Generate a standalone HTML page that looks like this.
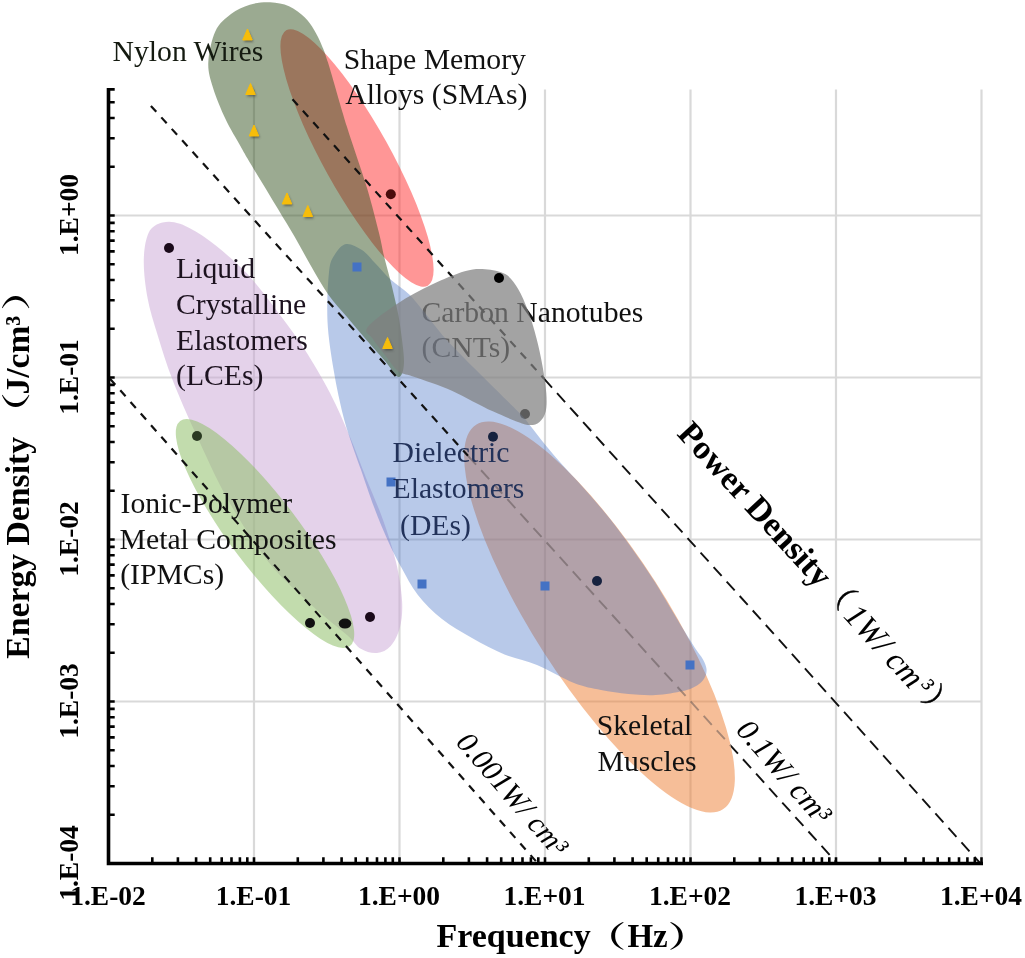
<!DOCTYPE html>
<html lang="en"><head><meta charset="utf-8"><title>Actuator energy density vs frequency</title>
<style>html,body{margin:0;padding:0;background:#fff;overflow:hidden}svg{display:block}text{font-family:"Liberation Serif","Noto Serif CJK SC",serif}</style>
</head><body>
<svg width="1025" height="958" viewBox="0 0 1025 958">
<defs><filter id="sh" x="-60%" y="-60%" width="220%" height="220%"><feGaussianBlur stdDeviation="1.3"/></filter></defs>
<rect width="1025" height="958" fill="#fff"/>
<path d="M254.0 89.4V863.5M399.5 89.4V863.5M545.0 89.4V863.5M690.5 89.4V863.5M836.0 89.4V863.5M981.5 89.4V863.5M108.5 701.5H981.5M108.5 539.5H981.5M108.5 377.5H981.5M108.5 215.5H981.5" stroke="#d9d9d9" stroke-width="2.2" fill="none"/>
<mask id="mk" maskUnits="userSpaceOnUse" x="0" y="0" width="1025" height="958"><rect width="1025" height="958" fill="#fff"/><ellipse cx="599.5" cy="617" rx="228.5" ry="66" transform="rotate(57.3 599.5 617)" fill="#000" /></mask>
<clipPath id="skc"><ellipse cx="599.5" cy="617" rx="228.5" ry="66" transform="rotate(57.3 599.5 617)" fill="#000" /></clipPath>
<path d="M544 378.6L980 863" stroke="#111" stroke-width="1.9" stroke-dasharray="12 7.5" fill="none" />
<g id="markers-under"><circle cx="525" cy="414" r="5" fill="#000"/></g>
<g id="labels-under"><text x="421.5" y="321.5" font-size="29.7" fill="#111">Carbon Nanotubes</text>
<text x="421.5" y="356.8" font-size="29.7" fill="#111">(CNTs)</text></g>
<g id="shapes-a"><ellipse cx="599.5" cy="617" rx="228.5" ry="66" transform="rotate(57.3 599.5 617)" fill="#ed7d31" fill-opacity="0.5"/>
<path d="M162.6 222.5C167.8 221.1 172.9 221.3 180.0 223.8C187.1 226.3 196.7 231.9 205.0 237.5C213.3 243.1 222.1 250.5 230.0 257.6C237.9 264.7 244.4 270.4 252.7 280.0C261.0 289.6 271.3 303.3 280.0 315.0C288.7 326.7 296.7 337.0 305.0 350.0C313.3 363.0 322.5 378.5 330.0 393.0C337.5 407.5 344.0 422.8 350.0 437.0C356.0 451.2 360.6 464.4 366.0 478.0C371.4 491.6 377.5 504.5 382.5 518.5C387.5 532.5 392.8 548.4 396.0 562.0C399.2 575.6 401.3 589.2 402.0 600.0C402.7 610.8 401.9 619.3 400.0 627.0C398.1 634.7 394.5 641.7 390.7 646.0C386.9 650.3 382.0 652.5 377.0 653.0C372.0 653.5 365.8 651.8 360.8 648.8C355.8 645.8 355.1 642.2 347.0 635.0C338.9 627.8 325.1 617.6 312.0 605.4C298.9 593.2 282.5 579.6 268.5 562.0C254.5 544.4 239.9 520.8 227.8 499.5C215.7 478.2 205.2 453.9 196.0 434.0C186.8 414.1 179.0 396.5 172.6 380.0C166.2 363.5 161.8 348.7 157.6 335.0C153.4 321.3 149.8 310.2 147.5 297.7C145.2 285.2 143.6 270.9 143.8 260.0C144.0 249.1 145.7 238.8 148.8 232.5C151.9 226.2 157.4 223.9 162.6 222.5Z" fill="#c9a6d6" fill-opacity="0.5"/>
<ellipse cx="265" cy="533.5" rx="141" ry="34.5" transform="rotate(53 265 533.5)" fill="#8fc06a" fill-opacity="0.55"/>
<ellipse cx="357" cy="158" rx="146" ry="33.5" transform="rotate(61 357 158)" fill="#ff2d2d" fill-opacity="0.5"/>
<path d="M346.0 244.0C341.4 244.8 337.3 250.3 334.5 255.0C331.7 259.7 330.2 260.9 329.0 272.0C327.8 283.1 326.7 304.8 327.5 321.5C328.3 338.2 331.4 356.4 334.0 372.0C336.6 387.6 340.1 403.2 343.0 415.0C345.9 426.8 348.6 434.0 351.5 443.0C354.4 452.0 356.9 458.2 360.7 469.0C364.5 479.8 369.8 495.9 374.3 507.8C378.8 519.7 383.3 530.4 387.8 540.4C392.3 550.4 396.4 558.5 401.4 567.5C406.4 576.5 410.9 586.1 417.7 594.7C424.5 603.3 432.9 611.8 442.0 619.0C451.1 626.2 461.6 632.1 472.0 638.0C482.4 643.9 493.7 649.9 504.5 654.4C515.3 658.9 525.4 660.2 537.0 665.0C548.6 669.8 563.3 678.8 574.0 683.0C584.7 687.2 591.9 688.2 601.0 690.0C610.1 691.8 619.4 693.2 628.5 694.0C637.6 694.8 646.6 695.5 655.7 695.0C664.8 694.5 676.1 692.6 683.0 691.0C689.9 689.4 693.4 687.7 697.0 685.5C700.6 683.3 702.9 680.8 704.5 678.0C706.1 675.2 706.8 672.1 706.5 669.0C706.2 665.9 704.9 663.0 703.0 659.5C701.1 656.0 698.0 652.6 695.0 648.0C692.0 643.4 688.4 637.5 685.0 632.0C681.6 626.5 679.8 623.5 674.7 615.0C669.6 606.5 661.3 592.1 654.2 581.0C647.1 569.9 639.5 559.1 632.0 548.5C624.5 537.9 616.7 527.2 608.9 517.5C601.1 507.8 593.0 498.7 585.4 490.0C577.8 481.3 569.7 473.1 563.0 465.5C556.3 457.9 550.5 451.2 545.0 444.5C539.5 437.8 534.5 431.0 530.0 425.5C525.5 420.0 530.9 424.9 518.0 411.6C505.1 398.4 467.9 362.4 452.4 346.0C436.9 329.6 432.2 321.6 425.0 313.0C417.8 304.4 414.8 300.0 409.0 294.3C403.2 288.6 395.7 284.2 390.0 279.0C384.3 273.8 379.7 267.8 375.0 263.0C370.3 258.2 366.8 253.2 362.0 250.0C357.2 246.8 350.6 243.2 346.0 244.0Z" fill="#4472c4" fill-opacity="0.38"/>
<path d="M270.2 2.3C276.7 2.6 283.3 3.8 289.0 6.3C294.7 8.8 300.4 13.3 304.6 17.2C308.8 21.1 311.1 25.0 314.0 29.7C316.9 34.4 319.5 39.9 321.8 45.4C324.1 50.9 323.8 49.0 328.0 62.6C332.2 76.2 340.5 106.1 347.0 127.0C353.5 147.9 361.7 170.3 367.0 188.0C372.3 205.7 376.2 221.7 379.0 233.0C381.8 244.3 382.1 248.2 384.0 256.0C385.9 263.8 388.3 272.0 390.3 280.0C392.3 288.0 394.4 296.5 396.0 304.0C397.6 311.5 398.7 315.3 400.0 325.0C401.3 334.7 404.2 353.3 404.0 362.0C403.8 370.7 401.7 377.2 398.5 377.0C395.3 376.8 390.6 367.4 385.0 361.0C379.4 354.6 371.5 345.8 365.2 338.5C358.9 331.2 353.1 324.2 347.0 317.0C340.9 309.8 334.6 303.5 328.6 295.0C322.6 286.5 316.6 275.7 311.0 266.0C305.4 256.3 300.3 246.5 294.8 237.0C289.3 227.5 283.8 218.7 278.0 209.0C272.2 199.3 264.9 187.4 259.8 179.0C254.7 170.6 250.7 164.0 247.5 158.5C244.3 153.0 244.1 152.6 240.4 146.0C236.7 139.4 230.1 128.7 225.5 119.0C220.9 109.3 215.9 97.1 213.0 87.7C210.1 78.3 207.9 72.0 208.3 62.6C208.7 53.2 211.6 39.4 215.4 31.3C219.2 23.2 225.3 18.5 231.0 14.1C236.7 9.7 243.3 6.7 249.8 4.7C256.3 2.7 263.7 2.0 270.2 2.3Z" fill="#375623" fill-opacity="0.5"/></g>
<path d="M468 455.8L837 863" stroke="#111" stroke-width="1.9" stroke-dasharray="12 7.5" fill="none" mask="url(#mk)"/>
<path d="M468 455.8L837 863" stroke="#5a5050" stroke-width="1.9" stroke-dasharray="12 7.5" fill="none" clip-path="url(#skc)" stroke-opacity="0.5"/>
<path d="M110 378.7L537.5 863M150.9 105.9L468 455.8M292.5 99.2L544 378.6" stroke="#111" stroke-width="2.2" stroke-dasharray="8 7.5" fill="none" />
<g id="shapes-b"><path d="M367.4 327.6C371.4 321.8 386.2 311.2 397.0 304.0C407.8 296.8 420.7 290.1 432.0 284.6C443.3 279.2 455.8 273.9 464.7 271.3C473.6 268.7 478.4 268.7 485.2 269.2C492.0 269.7 500.2 271.1 505.7 274.3C511.2 277.6 514.2 282.6 518.0 288.7C521.8 294.8 525.1 303.0 528.2 311.2C531.3 319.4 534.0 328.7 536.4 337.9C538.8 347.1 541.0 357.3 542.6 366.5C544.2 375.7 545.8 385.7 546.3 393.2C546.8 400.7 546.8 406.8 545.7 411.6C544.6 416.4 542.1 419.7 539.5 421.9C536.9 424.1 533.9 425.0 530.3 425.0C526.7 425.0 524.1 424.1 518.0 421.9C511.9 419.7 500.9 415.0 493.4 411.6C485.9 408.2 479.7 404.8 472.9 401.4C466.1 398.0 459.2 394.1 452.4 391.0C445.6 387.9 438.8 385.5 432.0 383.0C425.2 380.5 417.2 378.0 411.5 376.0C405.8 374.0 402.4 374.5 398.0 371.0C393.6 367.5 389.2 360.3 385.0 355.0C380.8 349.7 375.9 343.6 373.0 339.0C370.1 334.4 363.4 333.4 367.4 327.6Z" fill="#808080" fill-opacity="0.72"/></g>
<g id="markers"><path d="M247.5 29L252.3 40H242.7Z" fill="#333" opacity="0.55" filter="url(#sh)" transform="translate(1.2 2)"/>
<path d="M247.5 29L252.3 40H242.7Z" fill="#f7bd0b" stroke="#f7bd0b" stroke-width="1" stroke-linejoin="round"/>
<path d="M250.5 83.5L255.3 94.5H245.7Z" fill="#333" opacity="0.55" filter="url(#sh)" transform="translate(1.2 2)"/>
<path d="M250.5 83.5L255.3 94.5H245.7Z" fill="#f7bd0b" stroke="#f7bd0b" stroke-width="1" stroke-linejoin="round"/>
<path d="M254 125L258.8 136H249.2Z" fill="#333" opacity="0.55" filter="url(#sh)" transform="translate(1.2 2)"/>
<path d="M254 125L258.8 136H249.2Z" fill="#f7bd0b" stroke="#f7bd0b" stroke-width="1" stroke-linejoin="round"/>
<path d="M287 193L291.8 204H282.2Z" fill="#333" opacity="0.55" filter="url(#sh)" transform="translate(1.2 2)"/>
<path d="M287 193L291.8 204H282.2Z" fill="#f7bd0b" stroke="#f7bd0b" stroke-width="1" stroke-linejoin="round"/>
<path d="M307.8 205.5L312.6 216.5H303.0Z" fill="#333" opacity="0.55" filter="url(#sh)" transform="translate(1.2 2)"/>
<path d="M307.8 205.5L312.6 216.5H303.0Z" fill="#f7bd0b" stroke="#f7bd0b" stroke-width="1" stroke-linejoin="round"/>
<path d="M387.5 337.5L392.3 348.5H382.7Z" fill="#333" opacity="0.55" filter="url(#sh)" transform="translate(1.2 2)"/>
<path d="M387.5 337.5L392.3 348.5H382.7Z" fill="#f7bd0b" stroke="#f7bd0b" stroke-width="1" stroke-linejoin="round"/>
<circle cx="390.8" cy="194.3" r="5" fill="#4a0d0d"/>
<circle cx="169" cy="248" r="5" fill="#1a0a1a"/>
<circle cx="499" cy="278" r="5" fill="#000"/>
<circle cx="197" cy="436" r="5" fill="#2a3a22"/>
<circle cx="310" cy="623" r="5" fill="#111"/>
<circle cx="370" cy="617" r="5" fill="#1a0a1a"/>
<circle cx="493" cy="436.7" r="5" fill="#16223f"/>
<circle cx="597" cy="581" r="5" fill="#16223f"/>
<ellipse cx="345" cy="623.6" rx="6.3" ry="5" fill="#111"/>
<rect x="352.5" y="262.5" width="9" height="9" fill="#4472c4"/>
<rect x="386.5" y="477.5" width="9" height="9" fill="#4472c4"/>
<rect x="417.5" y="579.5" width="9" height="9" fill="#4472c4"/>
<rect x="540.5" y="581.5" width="9" height="9" fill="#4472c4"/>
<rect x="685.5" y="660.5" width="9" height="9" fill="#4472c4"/></g>
<g id="labels-over"><text x="112.5" y="61.4" font-size="29.7" fill="#141a10">Nylon Wires</text>
<text x="343.7" y="68.9" font-size="29.7" fill="#111">Shape Memory</text>
<text x="345.2" y="104.2" font-size="29.7" fill="#111">Alloys (SMAs)</text>
<text x="176" y="278" font-size="29.7" fill="#1c121f">Liquid</text>
<text x="176" y="314" font-size="29.7" fill="#1c121f">Crystalline</text>
<text x="176" y="349.5" font-size="29.7" fill="#1c121f">Elastomers</text>
<text x="176" y="385.4" font-size="29.7" fill="#1c121f">(LCEs)</text>
<text x="392.5" y="461.7" font-size="29.7" fill="#22325a">Dielectric</text>
<text x="392.5" y="498.3" font-size="29.7" fill="#22325a">Elastomers</text>
<text x="400" y="535" font-size="29.7" fill="#22325a">(DEs)</text>
<text x="120.6" y="512.5" font-size="29.7" fill="#111">Ionic-Polymer</text>
<text x="119.6" y="549" font-size="29.7" fill="#111">Metal Composites</text>
<text x="120.2" y="584" font-size="29.7" fill="#111">(IPMCs)</text>
<text x="596.7" y="734.7" font-size="29.7" fill="#111">Skeletal</text>
<text x="597.5" y="771.3" font-size="29.7" fill="#111">Muscles</text>
<text transform="translate(821 588.5) rotate(47)" font-size="30" stroke="#000" stroke-width="0.5">（</text>
<text transform="translate(842.5 616.5) rotate(47.5)" font-size="33" font-style="italic">1W/ cm</text>
<text transform="translate(914.4 689.7) rotate(47.5)" font-size="30" font-style="italic">³</text>
<text transform="translate(921 698.8) rotate(47)" font-size="30" stroke="#000" stroke-width="0.5">）</text>
<text transform="translate(455 743) rotate(49)" font-size="30" font-style="italic">0.001W/ cm³</text>
<text transform="translate(735 730.7) rotate(49)" font-size="31" font-style="italic">0.1W/ cm³</text></g>
<path d="M108.5 87.9V863.5H983.0" stroke="#000" stroke-width="3.6" fill="none" stroke-linejoin="miter"/>
<path d="M108.5 863.5v-6.2M152.3 863.5v-6.2M177.9 863.5v-6.2M196.1 863.5v-6.2M210.2 863.5v-6.2M221.7 863.5v-6.2M231.5 863.5v-6.2M239.9 863.5v-6.2M247.3 863.5v-6.2M254.0 863.5v-6.2M297.8 863.5v-6.2M323.4 863.5v-6.2M341.6 863.5v-6.2M355.7 863.5v-6.2M367.2 863.5v-6.2M377.0 863.5v-6.2M385.4 863.5v-6.2M392.8 863.5v-6.2M399.5 863.5v-6.2M443.3 863.5v-6.2M468.9 863.5v-6.2M487.1 863.5v-6.2M501.2 863.5v-6.2M512.7 863.5v-6.2M522.5 863.5v-6.2M530.9 863.5v-6.2M538.3 863.5v-6.2M545.0 863.5v-6.2M588.8 863.5v-6.2M614.4 863.5v-6.2M632.6 863.5v-6.2M646.7 863.5v-6.2M658.2 863.5v-6.2M668.0 863.5v-6.2M676.4 863.5v-6.2M683.8 863.5v-6.2M690.5 863.5v-6.2M734.3 863.5v-6.2M759.9 863.5v-6.2M778.1 863.5v-6.2M792.2 863.5v-6.2M803.7 863.5v-6.2M813.5 863.5v-6.2M821.9 863.5v-6.2M829.3 863.5v-6.2M836.0 863.5v-6.2M879.8 863.5v-6.2M905.4 863.5v-6.2M923.6 863.5v-6.2M937.7 863.5v-6.2M949.2 863.5v-6.2M959.0 863.5v-6.2M967.4 863.5v-6.2M974.8 863.5v-6.2M981.5 863.5v-6.2M108.5 863.5h6.2M108.5 814.7h6.2M108.5 786.2h6.2M108.5 766.0h6.2M108.5 750.3h6.2M108.5 737.4h6.2M108.5 726.6h6.2M108.5 717.2h6.2M108.5 708.9h6.2M108.5 701.5h6.2M108.5 652.7h6.2M108.5 624.2h6.2M108.5 604.0h6.2M108.5 588.3h6.2M108.5 575.4h6.2M108.5 564.6h6.2M108.5 555.2h6.2M108.5 546.9h6.2M108.5 539.5h6.2M108.5 490.7h6.2M108.5 462.2h6.2M108.5 442.0h6.2M108.5 426.3h6.2M108.5 413.4h6.2M108.5 402.6h6.2M108.5 393.2h6.2M108.5 384.9h6.2M108.5 377.5h6.2M108.5 328.7h6.2M108.5 300.2h6.2M108.5 280.0h6.2M108.5 264.3h6.2M108.5 251.4h6.2M108.5 240.6h6.2M108.5 231.2h6.2M108.5 222.9h6.2M108.5 215.5h6.2M108.5 166.7h6.2M108.5 138.2h6.2M108.5 118.0h6.2M108.5 102.3h6.2M108.5 89.4h6.2" stroke="#000" stroke-width="2.6" fill="none"/>
<g id="axis-text" font-weight="bold"><text x="108.0" y="904.6" font-size="27.5" text-anchor="middle">1.E-02</text>
<text x="253.5" y="904.6" font-size="27.5" text-anchor="middle">1.E-01</text>
<text x="399.0" y="904.6" font-size="27.5" text-anchor="middle">1.E+00</text>
<text x="544.5" y="904.6" font-size="27.5" text-anchor="middle">1.E+01</text>
<text x="690.0" y="904.6" font-size="27.5" text-anchor="middle">1.E+02</text>
<text x="835.5" y="904.6" font-size="27.5" text-anchor="middle">1.E+03</text>
<text x="981.0" y="904.6" font-size="27.5" text-anchor="middle">1.E+04</text>
<text transform="translate(78.3 863.0) rotate(-90)" font-size="27.5" text-anchor="middle">1.E-04</text>
<text transform="translate(78.3 701.0) rotate(-90)" font-size="27.5" text-anchor="middle">1.E-03</text>
<text transform="translate(78.3 539.0) rotate(-90)" font-size="27.5" text-anchor="middle">1.E-02</text>
<text transform="translate(78.3 377.0) rotate(-90)" font-size="27.5" text-anchor="middle">1.E-01</text>
<text transform="translate(78.3 215.0) rotate(-90)" font-size="27.5" text-anchor="middle">1.E+00</text>
<text x="436.4" y="947" font-size="34">Frequency</text>
<text transform="translate(584.3 947.25) scale(1.31 0.917)" font-size="32">（</text>
<text x="627.4" y="947" font-size="33">Hz</text>
<text transform="translate(667.8 947.25) scale(1.31 0.917)" font-size="32">）</text>
<text transform="translate(29 658.7) rotate(-90)" font-size="33.7">Energy Density</text>
<text transform="translate(26.5 433.7) rotate(-90) scale(1.3 0.903)" font-size="32">（</text>
<text transform="translate(29 394.5) rotate(-90)" font-size="33.5">J/cm³</text>
<text transform="translate(26.5 310.85) rotate(-90) scale(1.3 0.903)" font-size="32">）</text>
<text transform="translate(676 434.5) rotate(47.5)" font-size="34">Power Density</text></g>
</svg>
</body></html>
